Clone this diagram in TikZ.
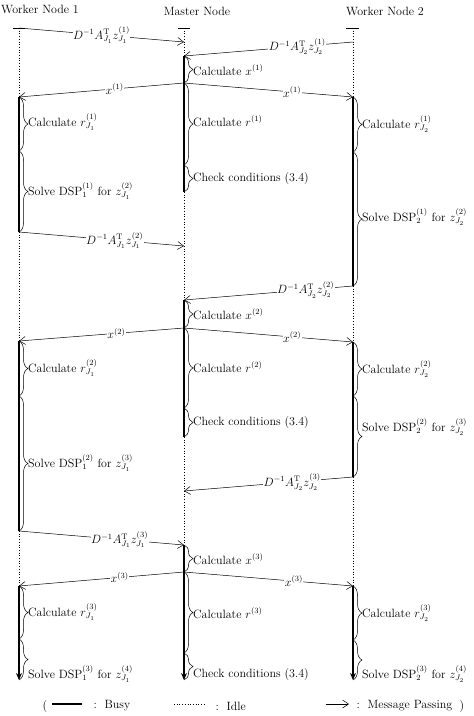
\documentclass[tikz,border=0pt]{standalone}
\usetikzlibrary{arrows.meta,decorations.pathreplacing}
\begin{document}
\begin{tikzpicture}[x=1pt,y=-1pt,font=\fontsize{12}{14}\selectfont,
  busy/.style={line width=1.5pt},
  idle/.style={dotted,line width=0.7pt},
  msg/.style={-{Straight Barb[length=6pt,width=8pt]},line width=0.5pt},
  msglbl/.style={fill=white,inner sep=0.5pt},
  task/.style={decorate,decoration={brace,amplitude=9pt},line width=0.5pt},
  tasklbl/.style={anchor=west,inner sep=1pt},
  tick/.style={line width=0.5pt},
  endarrow/.style={-{Stealth[length=7pt,width=6pt]}}]

\useasboundingbox (0,0) rectangle (474,716);

% Headings
\node (w1) at (40,9) {Worker Node 1};
\node (mn) at (197,11) {Master Node};
\node (w2) at (385,11) {Worker Node 2};

% Worker 1 time points
\coordinate (a0) at (19,28);
\coordinate (a1) at (19,97);
\coordinate (a2) at (19,151);
\coordinate (a3) at (19,232);
\coordinate (a4) at (19,341);
\coordinate (a5) at (19,396);
\coordinate (a6) at (19,531);
\coordinate (a7) at (19,586);
\coordinate (a8) at (19,639);
\coordinate (a9) at (19,680);

% Master time points
\coordinate (m0) at (184,28);
\coordinate (mr1) at (184,42);
\coordinate (m1) at (184,56);
\coordinate (m2) at (184,83);
\coordinate (m3) at (184,165);
\coordinate (m4) at (184,192);
\coordinate (mr2) at (184,246);
\coordinate (m5) at (184,300);
\coordinate (m6) at (184,328);
\coordinate (m7) at (184,408);
\coordinate (m8) at (184,437);
\coordinate (mr3) at (184,491);
\coordinate (m9) at (184,545);
\coordinate (m10) at (184,572);
\coordinate (m11) at (184,653);
\coordinate (m12) at (184,680);

% Worker 2 time points
\coordinate (b0) at (353,28);
\coordinate (bs1) at (353,42);
\coordinate (b1) at (353,97);
\coordinate (b2) at (353,152);
\coordinate (b3) at (353,286);
\coordinate (b4) at (353,342);
\coordinate (b5) at (353,396);
\coordinate (b6) at (353,477);
\coordinate (b7) at (353,586);
\coordinate (b8) at (353,640);
\coordinate (b9) at (353,680);

% Top ticks
\draw[tick] (13,28) -- (25,28);
\draw[tick] (178,28) -- (190,28);
\draw[tick] (346,28) -- (359,28);

% Idle
\draw[idle] (a0) -- (a1);
\draw[idle] (a3) -- (a4);
\draw[idle] (a6) -- (a7);
\draw[idle] (m0) -- (m1);
\draw[idle] (m4) -- (m5);
\draw[idle] (m8) -- (m9);
\draw[idle] (b0) -- (b1);
\draw[idle] (b3) -- (b4);
\draw[idle] (b6) -- (b7);

% Busy
\draw[busy] (a1) -- (a3);
\draw[busy] (a4) -- (a6);
\draw[busy,endarrow] (a7) -- (a9);
\draw[busy] (m1) -- (m4);
\draw[busy] (m5) -- (m8);
\draw[busy,endarrow] (m9) -- (m12);
\draw[busy] (b1) -- (b3);
\draw[busy] (b4) -- (b6);
\draw[busy,endarrow] (b7) -- (b9);

% Tasks of worker 1
\draw[task] (a1) -- (a2);
\node[tasklbl] (t1) at (27,122) {Calculate $r^{(1)}_{J_1}$};
\draw[task] (a2) -- (a3);
\node[tasklbl] (t2) at (27,191) {Solve DSP$^{(1)}_1$ for $z^{(2)}_{J_1}$};
\draw[task] (a4) -- (a5);
\node[tasklbl] (t3) at (27,368) {Calculate $r^{(2)}_{J_1}$};
\draw[task] (a5) -- (a6);
\node[tasklbl] (t4) at (27,463) {Solve DSP$^{(2)}_1$ for $z^{(3)}_{J_1}$};
\draw[task] (a7) -- (a8);
\node[tasklbl] (t5) at (27,612) {Calculate $r^{(3)}_{J_1}$};
\draw[task] (a8) -- (a9);
\node[tasklbl] (t6) at (27,674) {Solve DSP$^{(3)}_1$ for $z^{(4)}_{J_1}$};

% Tasks of master
\draw[task] (m1) -- (m2);
\node[tasklbl] (t7) at (192,70) {Calculate $x^{(1)}$};
\draw[task] (m2) -- (m3);
\node[tasklbl] (t8) at (192,121) {Calculate $r^{(1)}$};
\draw[task] (m3) -- (m4);
\node[tasklbl] (t9) at (192,179) {Check conditions (3.4)};
\draw[task] (m5) -- (m6);
\node[tasklbl] (t10) at (192,314) {Calculate $x^{(2)}$};
\draw[task] (m6) -- (m7);
\node[tasklbl] (t11) at (192,367) {Calculate $r^{(2)}$};
\draw[task] (m7) -- (m8);
\node[tasklbl] (t12) at (192,422) {Check conditions (3.4)};
\draw[task] (m9) -- (m10);
\node[tasklbl] (t13) at (192,559) {Calculate $x^{(3)}$};
\draw[task] (m10) -- (m11);
\node[tasklbl] (t14) at (192,613) {Calculate $r^{(3)}$};
\draw[task] (m11) -- (m12);
\node[tasklbl] (t15) at (192,674) {Check conditions (3.4)};

% Tasks of worker 2
\draw[task] (b1) -- (b2);
\node[tasklbl] (t16) at (361,124) {Calculate $r^{(1)}_{J_2}$};
\draw[task] (b2) -- (b3);
\node[tasklbl] (t17) at (361,217) {Solve DSP$^{(1)}_2$ for $z^{(2)}_{J_2}$};
\draw[task] (b4) -- (b5);
\node[tasklbl] (t18) at (361,369) {Calculate $r^{(2)}_{J_2}$};
\draw[task] (b5) -- (b6);
\node[tasklbl] (t19) at (361,427) {Solve DSP$^{(2)}_2$ for $z^{(3)}_{J_2}$};
\draw[task] (b7) -- (b8);
\node[tasklbl] (t20) at (361,613) {Calculate $r^{(3)}_{J_2}$};
\draw[task] (b8) -- (b9);
\node[tasklbl] (t21) at (361,674) {Solve DSP$^{(3)}_2$ for $z^{(4)}_{J_2}$};

% Messages
\draw[msg] (a0) -- node[msglbl,pos=0.5] (d1) {$D^{-1}A^{\mathrm{T}}_{J_1}z^{(1)}_{J_1}$} (mr1);
\draw[msg] (bs1) -- node[msglbl,pos=0.33] (e1) {$D^{-1}A^{\mathrm{T}}_{J_2}z^{(1)}_{J_2}$} (m1);
\draw[msg] (m2) -- node[msglbl,pos=0.42] (x1a) {$x^{(1)}$} (a1);
\draw[msg] (m2) -- node[msglbl,pos=0.64] (x1b) {$x^{(1)}$} (b1);
\draw[msg] (a3) -- node[msglbl,pos=0.58] (d2) {$D^{-1}A^{\mathrm{T}}_{J_1}z^{(2)}_{J_1}$} (mr2);
\draw[msg] (b3) -- node[msglbl,pos=0.28] (e2) {$D^{-1}A^{\mathrm{T}}_{J_2}z^{(2)}_{J_2}$} (m5);
\draw[msg] (m6) -- node[msglbl,pos=0.41] (x2a) {$x^{(2)}$} (a4);
\draw[msg] (m6) -- node[msglbl,pos=0.64] (x2b) {$x^{(2)}$} (b4);
\draw[msg] (b6) -- node[msglbl,pos=0.36] (e3) {$D^{-1}A^{\mathrm{T}}_{J_2}z^{(3)}_{J_2}$} (mr3);
\draw[msg] (a6) -- node[msglbl,pos=0.61] (d3) {$D^{-1}A^{\mathrm{T}}_{J_1}z^{(3)}_{J_1}$} (m9);
\draw[msg] (m10) -- node[msglbl,pos=0.39] (x3a) {$x^{(3)}$} (a7);
\draw[msg] (m10) -- node[msglbl,pos=0.65] (x3b) {$x^{(3)}$} (b7);

% Legend
\node (lopen) at (45,706) {(};
\coordinate (l1) at (52,704);
\coordinate (l2) at (82,704);
\draw[busy] (l1) -- (l2);
\node[anchor=west] (lbusy) at (90,706) {:\ \ Busy};
\coordinate (l3) at (174,704);
\coordinate (l4) at (205,704);
\draw[idle] (l3) -- (l4);
\node[anchor=west] (lidle) at (212,706) {:\ \ Idle};
\coordinate (l5) at (326,704);
\coordinate (l6) at (349,704);
\draw[msg] (l5) -- (l6);
\node[anchor=west] (lmsg) at (353,706) {:\ \ Message Passing};
\node (lclose) at (462,706) {)};

\end{tikzpicture}
\end{document}
